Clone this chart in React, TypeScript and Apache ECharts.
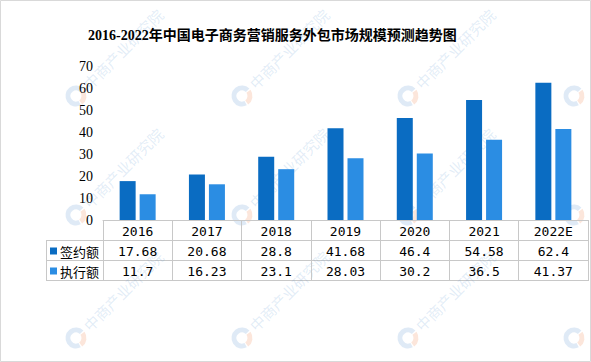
import React, { useEffect, useRef } from "react";
import * as echarts from "echarts";

const titleText = "2016-2022年中国电子商务营销服务外包市场规模预测趋势图";
const years = ["2016", "2017", "2018", "2019", "2020", "2021", "2022E"];
const seriesNames = ["签约额", "执行额"];
const signedValues = [17.68, 20.68, 28.8, 41.68, 46.4, 54.58, 62.4];
const executedValues = [11.7, 16.23, 23.1, 28.03, 30.2, 36.5, 41.37];
const yMin = 0;
const yMax = 70;
const yInterval = 10;

const DARK = "#0A6CC2";
const LIGHT = "#2B8DE3";
const GRID_LINE = "#C8C8C8";

// [x, y, showText]
const wmLogos: [number, number, boolean][] = [
  [76, 96, true], [242, 96, true], [408, 96, true], [574, 96, false],
  [76, 215, true], [242, 215, true], [408, 215, true], [574, 215, false],
  [76, 338, true], [242, 338, true], [408, 338, true], [574, 338, false],
];

function watermark(x: number, y: number, showText: boolean) {
  const children: any[] = [
    {
      type: "arc",
      shape: { cx: 0, cy: 0, r: 8, startAngle: Math.PI * 0.35, endAngle: Math.PI * 1.75 },
      style: { stroke: "rgba(110,160,215,0.22)", lineWidth: 5, fill: "none" },
    },
    {
      type: "arc",
      shape: { cx: 0, cy: 0, r: 8, startAngle: Math.PI * 1.8, endAngle: Math.PI * 2.3 },
      style: { stroke: "rgba(240,140,90,0.22)", lineWidth: 5, fill: "none" },
    },
  ];
  if (showText) {
    children.push({
      type: "text",
      x: 10,
      y: -10,
      rotation: Math.PI / 4,
      style: {
        text: "中商产业研究院",
        fontSize: 15,
        fontFamily: "Noto Sans CJK SC",
        fill: "rgba(110,160,215,0.2)",
        verticalAlign: "middle",
        align: "left",
      },
    });
  }
  return { type: "group", x, y, silent: true, z: 100, children };
}

export default function App() {
  const ref = useRef<HTMLDivElement>(null);
  useEffect(() => {
    document.body.style.margin = "0";
    const chart = echarts.init(ref.current!, null, { renderer: "svg" });
    const left = 103;
    const right = 588;
    const top = 66;
    const bottom = 220;
    const rowH = 20;
    const tableLeft = 46;
    const option: any = {
      animation: false,
      backgroundColor: "#fff",
      title: {
        text: titleText,
        left: 83,
        top: 23,
        textStyle: {
          fontSize: 14,
          fontWeight: "bold",
          fontFamily: "Liberation Serif, Noto Sans CJK SC",
          color: "#000",
        },
      },
      grid: { left, top, width: right - left, height: bottom - top },
      xAxis: {
        type: "category",
        data: years,
        axisLine: { show: true, lineStyle: { color: GRID_LINE, width: 1 } },
        axisTick: { show: true, interval: 0, length: rowH * 3 + 1, lineStyle: { color: GRID_LINE } },
        axisLabel: {
          interval: 0,
          margin: 1,
          formatter: (v: string, i: number) =>
            `{y|${v}}\n{v|${signedValues[i]}}\n{v|${executedValues[i]}}`,
          rich: {
            y: { fontFamily: "DejaVu Sans Mono", fontSize: 13, lineHeight: rowH, color: "#000", height: rowH },
            v: { fontFamily: "DejaVu Sans Mono", fontSize: 13, lineHeight: rowH, color: "#000", height: rowH },
          },
        },
      },
      yAxis: {
        type: "value",
        min: yMin,
        max: yMax,
        interval: yInterval,
        axisLine: { show: false },
        axisTick: { show: false },
        splitLine: { show: false },
        axisLabel: {
          margin: 10,
          fontFamily: "Liberation Serif",
          fontSize: 14,
          color: "#000",
        },
      },
      series: [
        {
          name: seriesNames[0],
          type: "bar",
          data: signedValues,
          barWidth: 16,
          barGap: "25%",
          itemStyle: { color: DARK },
        },
        {
          name: seriesNames[1],
          type: "bar",
          data: executedValues,
          barWidth: 16,
          itemStyle: { color: LIGHT },
        },
      ],
      graphic: [
        { type: "rect", shape: { x: 0.5, y: 0.5, width: 590, height: 361 }, style: { fill: "none", stroke: "#D9D9D9", lineWidth: 1 }, z: -1 },
        ...[1, 2, 3].map((k) => ({
          type: "line",
          shape: { x1: tableLeft, y1: bottom + rowH * k + 0.5, x2: right, y2: bottom + rowH * k + 0.5 },
          style: { stroke: GRID_LINE, lineWidth: 1 },
        })),
        {
          type: "line",
          shape: { x1: tableLeft + 0.5, y1: bottom + rowH, x2: tableLeft + 0.5, y2: bottom + rowH * 3 + 1 },
          style: { stroke: GRID_LINE, lineWidth: 1 },
        },
        ...seriesNames.flatMap((name, k) => {
          const cy = bottom + rowH * (k + 1) + rowH / 2 + 1;
          return [
            {
              type: "rect",
              shape: { x: 50, y: cy - 3.5, width: 7, height: 7 },
              style: { fill: k === 0 ? DARK : LIGHT },
            },
            {
              type: "text",
              x: 60,
              y: cy,
              style: {
                text: name,
                fontSize: 13,
                fontFamily: "Noto Sans CJK SC",
                fill: "#000",
                verticalAlign: "middle",
              },
            },
          ];
        }),
        ...wmLogos.map(([x, y, s]) => watermark(x, y, s)),
      ],
    };
    chart.setOption(option);
    return () => chart.dispose();
  }, []);
  return <div ref={ref} style={{ width: 591, height: 362 }} />;
}
